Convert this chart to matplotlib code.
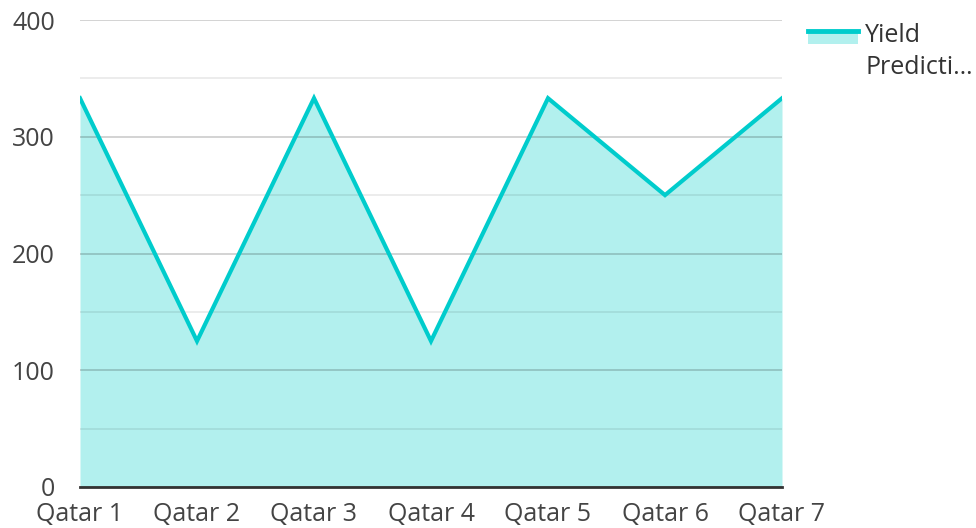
import matplotlib.pyplot as plt
from matplotlib.patches import Rectangle
from matplotlib.lines import Line2D

plt.rcParams['font.family'] = ['Open Sans', 'DejaVu Sans']

categories = ['Qatar 1', 'Qatar 2', 'Qatar 3', 'Qatar 4', 'Qatar 5', 'Qatar 6', 'Qatar 7']
yield_pred = [333, 125, 333, 125, 333, 250, 333]
series_lines = ['Yield', 'Predicti…']

line_col = '#00cccc'
fill_col = '#b2f0ee'
text_col = '#444444'

fig = plt.figure(figsize=(9.76, 5.28), dpi=100)
ax = fig.add_axes([80 / 976, 1 - 487 / 528, (782 - 80) / 976, (487 - 20) / 528])

x = list(range(len(categories)))
ax.fill_between(x, 0, yield_pred, color=fill_col, lw=0, zorder=1)
ax.plot(x, yield_pred, color=line_col, lw=3, zorder=3, solid_joinstyle='miter')

ax.set_xlim(0, len(categories) - 1)
ax.set_ylim(0, 400)
ax.set_yticks([0, 100, 200, 300, 400])
ax.set_yticks([50, 150, 250, 350], minor=True)
ax.set_xticks(x)
ax.set_xticklabels(categories)

ax.grid(True, which='major', axis='y', color='#000000', alpha=0.2, lw=1.2, zorder=2)
ax.grid(True, which='minor', axis='y', color='#000000', alpha=0.09, lw=1.2, zorder=2)
ax.set_axisbelow(False)

for s in ['top', 'right', 'left']:
    ax.spines[s].set_visible(False)
ax.spines['bottom'].set_color('#333333')
ax.spines['bottom'].set_linewidth(2)
ax.spines['bottom'].set_zorder(4)

ax.tick_params(axis='both', which='both', length=0, labelsize=18, labelcolor=text_col)
ax.tick_params(axis='y', pad=18)
ax.tick_params(axis='x', pad=11)

# legend drawn in figure pixels
W, H = 976, 528
fig.patches.append(Rectangle((808 / W, 1 - 44 / H), 50 / W, 13 / H, transform=fig.transFigure,
                             facecolor=fill_col, edgecolor='none'))
fig.lines.append(Line2D([808 / W, 858 / W], [1 - 31 / H, 1 - 31 / H], transform=fig.transFigure,
                        color=line_col, lw=3.5))
for i, t in enumerate(series_lines):
    fig.text(865 / W, 1 - (32 + 32 * i) / H, t, ha='left', va='center_baseline', fontsize=18,
             color='#333333')

fig.savefig('out.png', dpi=100)
